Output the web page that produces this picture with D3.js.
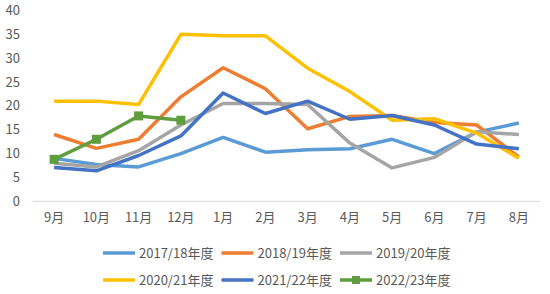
<!DOCTYPE html>
<html>
<head>
<meta charset="utf-8">
<script src="https://cdn.jsdelivr.net/npm/d3@7"></script>
<style>
  body { margin: 0; background: #fff; }
  text { font-family: "Microsoft YaHei", "Noto Sans CJK SC", sans-serif; fill: #595959; }
</style>
</head>
<body>
<svg width="550" height="294"></svg>
<script>
// months on the x axis
const months = ["9月", "10月", "11月", "12月", "1月", "2月", "3月", "4月", "5月", "6月", "7月", "8月"];
const yTicks = [0, 5, 10, 15, 20, 25, 30, 35, 40];

// one array per season
const s1718 = [9, 7.7, 7.2, 10, 13.4, 10.3, 10.8, 11, 13, 10, 14.5, 16.4];
const s1819 = [14, 11.1, 13, 21.9, 28, 23.6, 15.2, 17.8, 18, 16.5, 16, 9.3];
const s1920 = [8, 7.2, 10.6, 16, 20.5, 20.5, 20.3, 12.2, 7, 9.2, 14.6, 14];
const s2021 = [21, 21, 20.3, 35, 34.7, 34.7, 27.9, 23, 17, 17.3, 14.3, 9];
const s2122 = [7.1, 6.4, 9.6, 13.7, 22.7, 18.4, 21, 17.2, 18, 16, 12, 11];
const s2223 = [8.8, 13, 17.9, 17];

const series = [
  { name: "2017/18年度", values: s1718, color: "#5b9bd5" },
  { name: "2018/19年度", values: s1819, color: "#ed7d31" },
  { name: "2019/20年度", values: s1920, color: "#a5a5a5" },
  { name: "2020/21年度", values: s2021, color: "#ffc000" },
  { name: "2021/22年度", values: s2122, color: "#4472c4" },
  { name: "2022/23年度", values: s2223, color: "#5f9e3f", marker: true }
];

const svg = d3.select("svg");

const x = d3.scaleBand()
    .domain(months)
    .range([33, 540]);

const y = d3.scaleLinear()
    .domain([0, 40])
    .range([201.3, 10.5]);

// y labels (no gridlines)
svg.append("g")
    .selectAll("text")
    .data(yTicks)
    .join("text")
    .attr("x", 20)
    .attr("y", d => y(d))
    .attr("dy", "0.35em")
    .attr("text-anchor", "end")
    .style("font-size", "13px")
    .text(d => d);

// baseline
svg.append("line")
    .attr("x1", 33).attr("x2", 540)
    .attr("y1", y(0)).attr("y2", y(0))
    .attr("stroke", "#d9d9d9")
    .attr("stroke-width", 1);

// month labels
svg.append("g")
    .selectAll("text")
    .data(months)
    .join("text")
    .attr("x", d => x(d) + x.bandwidth() / 2)
    .attr("y", 222)
    .attr("text-anchor", "middle")
    .style("font-size", "13px")
    .text(d => d);

const line = d3.line()
    .x((d, i) => x(months[i]) + x.bandwidth() / 2)
    .y(d => y(d));

svg.append("g")
    .selectAll("path")
    .data(series)
    .join("path")
    .attr("d", d => line(d.values))
    .attr("fill", "none")
    .attr("stroke", d => d.color)
    .attr("stroke-width", 3.5)
    .attr("stroke-linejoin", "round");

// markers for the current season
svg.append("g")
    .selectAll("rect")
    .data(s2223)
    .join("rect")
    .attr("x", (d, i) => x(months[i]) + x.bandwidth() / 2 - 4.5)
    .attr("y", d => y(d) - 4.5)
    .attr("width", 9)
    .attr("height", 9)
    .attr("fill", "#5f9e3f");

// legend, 3 per row
const legend = svg.append("g")
    .selectAll("g")
    .data(series)
    .join("g")
    .attr("transform", (d, i) => `translate(${103 + (i % 3) * 118.5},${i < 3 ? 253 : 280})`);

legend.append("line")
    .attr("x1", 0).attr("x2", 32)
    .attr("stroke", d => d.color)
    .attr("stroke-width", 3.5);

legend.filter(d => d.marker)
    .append("rect")
    .attr("x", 12).attr("y", -4)
    .attr("width", 8).attr("height", 8)
    .attr("fill", d => d.color);

legend.append("text")
    .attr("x", 36)
    .attr("dy", "0.35em")
    .style("font-size", "13px")
    .text(d => d.name);
</script>
</body>
</html>
